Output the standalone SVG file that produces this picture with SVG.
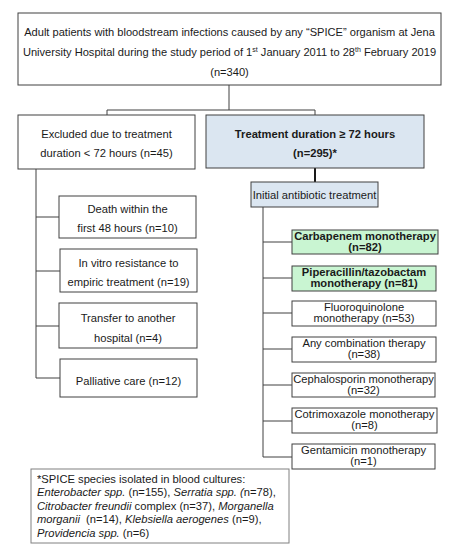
<svg xmlns="http://www.w3.org/2000/svg" width="456" height="550" viewBox="0 0 456 550">
<style>
text{font-family:"Liberation Sans",Arial,sans-serif;font-size:11.2px;fill:#1a1a1a}
.c{text-anchor:middle}
.b{font-weight:bold}
.t{font-size:11.1px}
.box{fill:#fff;stroke:#404040;stroke-width:1}
.blue{fill:#dbe6f1;stroke:#404040;stroke-width:1}
.green{fill:#c9f5d2;stroke:#404040;stroke-width:1}
.foot{fill:#fff;stroke:#808080;stroke-width:1}
.ln{fill:none;stroke:#404040;stroke-width:1}
.i{font-style:italic}
</style>
<rect width="456" height="550" fill="#fff"/>
<g id="connectors">
<path class="ln" d="M229,85V110M107,110H315M107,110V115M315,110V115"/>
<path d="M315,168V182" fill="none" stroke="#1a1a1a" stroke-width="2"/>
<path class="ln" d="M36,169V378M36,217H59M36,271H60M36,326H59M36,378H60"/>
<path class="ln" d="M263,207V457M263,242H292M263,278H292M263,313H292M263,349H292M263,385H292M263,421H292M263,457H292"/>
</g>
<g id="top">
<rect class="box" x="18" y="13" width="423" height="72"/>
<text class="c t" x="229.5" y="36">Adult patients with bloodstream infections caused by any “SPICE” organism at Jena</text>
<text class="c t" x="229.5" y="56">University Hospital during the study period of 1<tspan font-size="7" dy="-4">st</tspan><tspan dy="4"> January 2011 to 28</tspan><tspan font-size="7" dy="-4">th</tspan><tspan dy="4"> February 2019</tspan></text>
<text class="c t" x="229.5" y="76">(n=340)</text>
</g>
<g id="excluded">
<rect class="box" x="18" y="115" width="177" height="54"/>
<text class="c" x="106.5" y="138">Excluded due to treatment</text>
<text class="c" x="106.5" y="157">duration &lt; 72 hours (n=45)</text>
</g>
<g id="treatment">
<rect class="blue" x="206" y="115" width="218" height="53"/>
<text class="c b" x="315" y="138">Treatment duration ≥ 72 hours</text>
<text class="c b" x="315" y="157">(n=295)*</text>
</g>
<g id="initial">
<rect class="blue" x="251" y="182" width="127" height="25"/>
<text class="c" x="314.5" y="198.5">Initial antibiotic treatment</text>
</g>
<g id="death">
<rect class="box" x="59" y="196" width="137" height="42"/>
<text class="c" x="127.5" y="213">Death within the</text>
<text class="c" x="127.5" y="232">first 48 hours (n=10)</text>
</g>
<g id="invitro">
<rect class="box" x="60" y="249" width="137" height="43"/>
<text class="c" x="128.5" y="267">In vitro resistance to</text>
<text class="c" x="128.5" y="286">empiric treatment (n=19)</text>
</g>
<g id="transfer">
<rect class="box" x="59" y="303" width="138" height="45"/>
<text class="c" x="128" y="322">Transfer to another</text>
<text class="c" x="128" y="342">hospital (n=4)</text>
</g>
<g id="palliative">
<rect class="box" x="60" y="359" width="137" height="38"/>
<text class="c" x="128.5" y="385">Palliative care (n=12)</text>
</g>
<g id="carbapenem">
<rect class="green" x="292" y="230" width="146" height="24"/>
<text class="c b" x="365" y="240">Carbapenem monotherapy</text>
<text class="c b" x="365" y="251">(n=82)</text>
</g>
<g id="piperacillin">
<rect class="green" x="292" y="266" width="144" height="25"/>
<text class="c b" x="364" y="276">Piperacillin/tazobactam</text>
<text class="c b" x="364" y="287">monotherapy (n=81)</text>
</g>
<g id="fluoroquinolone">
<rect class="box" x="292" y="301" width="144" height="25"/>
<text class="c" x="364" y="311">Fluoroquinolone</text>
<text class="c" x="364" y="322">monotherapy (n=53)</text>
</g>
<g id="combination">
<rect class="box" x="292" y="337" width="144" height="25"/>
<text class="c" x="364" y="347">Any combination therapy</text>
<text class="c" x="364" y="358">(n=38)</text>
</g>
<g id="cephalosporin">
<rect class="box" x="292" y="373" width="143" height="24"/>
<text class="c" x="363.5" y="383">Cephalosporin monotherapy</text>
<text class="c" x="363.5" y="394">(n=32)</text>
</g>
<g id="cotrimoxazole">
<rect class="box" x="292" y="408" width="145" height="25"/>
<text class="c" x="364.5" y="418">Cotrimoxazole monotherapy</text>
<text class="c" x="364.5" y="429">(n=8)</text>
</g>
<g id="gentamicin">
<rect class="box" x="292" y="444" width="143" height="25"/>
<text class="c" x="363.5" y="454">Gentamicin monotherapy</text>
<text class="c" x="363.5" y="465">(n=1)</text>
</g>
<g id="footnote">
<rect class="foot" x="31" y="469" width="258" height="74"/>
<text x="37" y="483">*SPICE species isolated in blood cultures:</text>
<text x="37" y="496"><tspan class="i">Enterobacter spp.</tspan> (n=155), <tspan class="i">Serratia spp. (</tspan>n=78),</text>
<text x="37" y="509.5"><tspan class="i">Citrobacter freundii</tspan> complex (n=37), <tspan class="i">Morganella</tspan></text>
<text x="37" y="523" xml:space="preserve"><tspan class="i">morganii</tspan>  (n=14), <tspan class="i">Klebsiella aerogenes</tspan> (n=9),</text>
<text x="37" y="536.5"><tspan class="i">Providencia spp.</tspan> (n=6)</text>
</g>
</svg>
